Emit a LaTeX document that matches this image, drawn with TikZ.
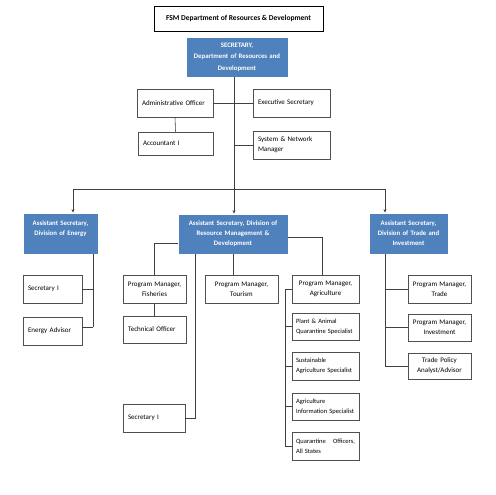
\documentclass[tikz,border=0pt]{standalone}
\usepackage{fontspec}
\setmainfont{Carlito}
\usetikzlibrary{arrows.meta,shadows}
\definecolor{boxblue}{HTML}{4F81BD}
\definecolor{linec}{HTML}{404040}
\definecolor{boxc}{HTML}{505050}
\tikzset{
  bx/.style={draw=boxc, fill=white, line width=0.6pt, inner xsep=5pt, inner ysep=1pt,
    align=left, font=\fontsize{7}{10}\selectfont,
    drop shadow={shadow xshift=1pt, shadow yshift=-1pt, opacity=0.25, fill=black}},
  bxc/.style={bx, align=center},
  bxs/.style={bx, inner xsep=4pt, font=\fontsize{6.5}{10}\selectfont},
  blue/.style={draw=white, line width=0.8pt, fill=boxblue, text=white, inner xsep=2pt, inner ysep=1pt,
    align=center, font=\bfseries\fontsize{6.8}{10}\selectfont,
    drop shadow={shadow xshift=1.2pt, shadow yshift=-1.2pt, opacity=0.3, fill=black}},
  conn/.style={draw=linec, line width=0.6pt},
  arr/.style={conn, -{Stealth[length=3.5pt,width=3pt]}}
}
\begin{document}
\begin{tikzpicture}[x=1pt,y=-1pt]
\useasboundingbox[fill=white] (0,0) rectangle (495,495);
% title
\node[draw=black, line width=0.9pt, fill=white, minimum width=169pt, minimum height=25pt,
  font=\bfseries\fontsize{7.5}{9}\selectfont] (title) at (238.5,18.5) {FSM Department of Resources \& Development};
% secretary
\node[blue, text width=98pt, minimum height=40pt, font=\bfseries\fontsize{6.8}{11.5}\selectfont] (sec) at (237,57) {SECRETARY,\\Department of Resources and\\Development};
% office
\node[bx, text width=66pt, minimum height=28pt] (admin) at (175,103) {Administrative Officer};
\node[bx, text width=65pt, minimum height=23pt] (acct) at (175.5,143.5) {Accountant I};
\node[bx, text width=67pt, minimum height=28pt] (exec) at (291.5,103) {Executive Secretary};
\node[bx, text width=67pt, minimum height=28pt] (sys) at (291.5,145) {System \& Network\\Manager};
% level 2
\node[blue, text width=71pt, minimum height=41pt] (energy) at (60.5,233.5) {Assistant Secretary,\\Division of Energy\\\mbox{}};
\node[blue, text width=106pt, minimum height=40pt] (mid) at (233,234) {Assistant Secretary, Division of\\Resource Management \&\\Development};
\node[blue, text width=75pt, minimum height=41pt] (trade) at (408.5,233.5) {Assistant Secretary,\\Division of Trade and\\Investment};
% energy
\node[bx, text width=49pt, minimum height=28pt] (sec1e) at (52.5,289) {Secretary I};
\node[bx, text width=49pt, minimum height=28pt] (eadv) at (52.5,331) {Energy Advisor};
% fisheries
\node[bxc, text width=59pt, inner xsep=2pt, minimum height=28pt] (fish) at (154.5,289) {Program Manager,\\Fisheries};
\node[bx, text width=53pt, minimum height=27pt] (tech) at (154.5,329.5) {Technical Officer};
\node[bx, text width=52pt, minimum height=28pt] (sec1m) at (154,418) {Secretary I};
% tourism
\node[bxc, text width=63pt, minimum height=28pt] (tour) at (241.5,289) {Program Manager,\\Tourism};
% agriculture
\node[bxc, text width=61pt, inner xsep=3pt, minimum height=28pt] (agri) at (325.5,289) {Program Manager,\\Agriculture};
\node[bxs, text width=59pt, minimum height=27pt] (plant) at (325.5,326.5) {Plant \& Animal\\Quarantine Specialist};
\node[bxs, text width=59pt, minimum height=28pt] (sust) at (325.5,366) {Sustainable\\Agriculture Specialist};
\node[bxs, text width=59pt, minimum height=27pt] (ainfo) at (325.5,406.5) {Agriculture\\Information Specialist};
\node[bxs, text width=59pt, minimum height=28pt] (quar) at (325.5,446) {Quarantine\hfill Officers,\\All States};
% trade
\node[bxc, text width=59pt, inner xsep=2pt, minimum height=28pt] (pmt) at (439.5,289) {Program Manager,\\Trade};
\node[bxc, text width=59pt, inner xsep=2pt, minimum height=27pt] (pmi) at (439.5,327.5) {Program Manager,\\Investment};
\node[bxc, text width=59pt, inner xsep=2pt, minimum height=26pt] (tpa) at (439.5,366) {Trade Policy\\Analyst/Advisor};
% coordinates
\coordinate (trunk) at (234,189);
\coordinate (busL) at (73,189);
\coordinate (busR) at (385,189);
\coordinate (eb) at (93,327);
\coordinate (tb) at (385,366);
\coordinate (ab) at (285,446);
% connectors
\draw[conn] (sec.south -| trunk) -- (trunk);
\draw[conn] (admin.east) -- (admin.east -| trunk);
\draw[conn] (exec.west -| trunk) -- (exec.west);
\draw[conn] (sys.west -| trunk) -- (sys.west);
\draw[conn] (admin.south) -- (acct.north);
\draw[conn] (busL) -- (busR);
\draw[arr] (busL) -- (busL |- energy.north);
\draw[arr] (trunk) -- (trunk |- mid.north);
\draw[arr] (busR) -- (busR |- trade.north);
% energy
\draw[conn] (eb |- energy.south) -- (eb);
\draw[conn] (sec1e.east) -- (sec1e.east -| eb);
\draw[conn] (eadv.east |- eb) -- (eb);
% middle
\draw[conn] (mid.west |- 0,243) -| (fish.north);
\draw[conn] (fish.south) -- (tech.north);
\draw[conn] (195,0 |- mid.south) |- (sec1m.east);
\draw[conn] (233,0 |- mid.south) -- (233,0 |- tour.north);
\draw[conn] (mid.east |- 0,237) -| (322,0 |- agri.north);
\draw[conn] (agri.west) -| (ab);
\draw[conn] (plant.west -| ab) -- (plant.west);
\draw[conn] (sust.west -| ab) -- (sust.west);
\draw[conn] (ainfo.west -| ab) -- (ainfo.west);
\draw[conn] (ab) -- (quar.west);
% trade
\draw[conn] (tb |- trade.south) -- (tb);
\draw[conn] (pmt.west -| tb) -- (pmt.west);
\draw[conn] (pmi.west -| tb) -- (pmi.west);
\draw[conn] (tb) -- (tpa.west);
\end{tikzpicture}
\end{document}
